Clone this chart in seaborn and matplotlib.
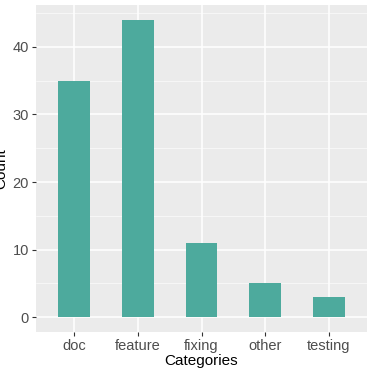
import matplotlib
matplotlib.use("Agg")
import matplotlib.pyplot as plt
import seaborn as sns
import pandas as pd
from matplotlib.ticker import MultipleLocator

categories = ["doc", "feature", "fixing", "other", "testing"]
counts = [35, 44, 11, 5, 3]

df = pd.DataFrame({"Categories": categories, "Count": counts})

sns.set_theme(style="darkgrid")
plt.rcParams['font.family'] = ['Liberation Sans', 'DejaVu Sans']

fig = plt.figure(figsize=(3.73, 3.73), dpi=100)
ax = fig.add_axes([36/373, 41/373, 331/373, 327/373])
ax.set_facecolor("#EBEBEB")
sns.barplot(data=df, x="Categories", y="Count", color="#4DAA9D", width=0.5,
            saturation=1, ax=ax, zorder=3, linewidth=0, edgecolor="none")
ax.set_xlim(-0.6, 4.6)
ax.set_ylim(-2.2, 46.2)
ax.yaxis.set_major_locator(MultipleLocator(10))
ax.yaxis.set_minor_locator(MultipleLocator(5))
ax.grid(which="major", color="white", linewidth=1.1, zorder=0)
ax.grid(which="minor", axis="y", color="white", linewidth=0.5, alpha=0.8, zorder=0)
ax.set_axisbelow(True)
for s in ax.spines.values():
    s.set_visible(False)
ax.tick_params(axis="both", which="major", length=3, width=0.8, color="#333333",
               labelcolor="#4D4D4D", labelsize=10.5, pad=2, bottom=True, left=True)
ax.tick_params(axis="both", which="minor", length=0)
ax.set_xlabel("Categories", fontsize=11, color="black", labelpad=1)
ax.set_ylabel("Count", fontsize=11, color="black")
ax.yaxis.set_label_coords(-0.085, 0.5)
fig.savefig("out.png", dpi=100)
